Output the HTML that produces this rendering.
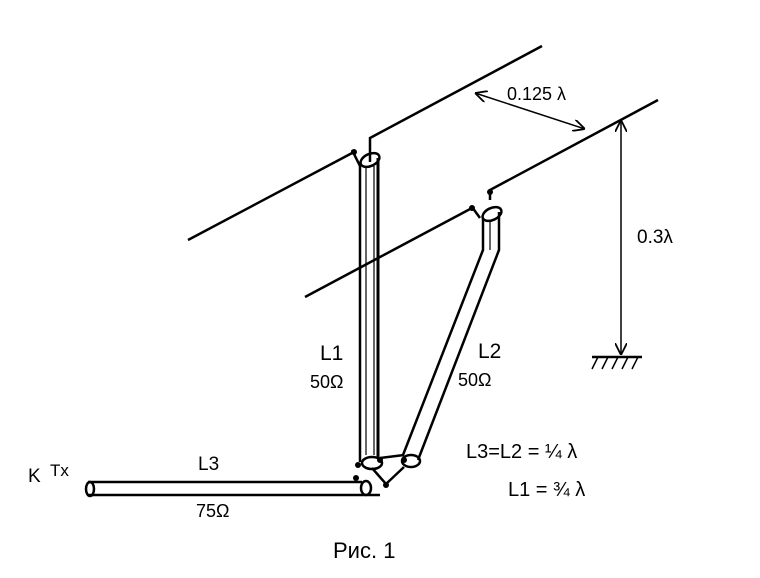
<!DOCTYPE html>
<html><head><style>body{margin:0;background:#fff}svg{display:block}text{font-family:"Liberation Sans",sans-serif;fill:#000}</style></head>
<body>
<svg width="760" height="578" viewBox="0 0 760 578" xmlns="http://www.w3.org/2000/svg">
<defs><marker id="a" viewBox="0 0 10 10" refX="10" refY="5" markerWidth="8" markerHeight="8" orient="auto-start-reverse"><path d="M0,0 L10,5 L0,10" fill="none" stroke="#000" stroke-width="1.5"/></marker></defs>
<g stroke="#000" stroke-width="2.5" fill="none">
<line x1="188" y1="240" x2="354" y2="152"/>
<polyline points="370,162 370,138 542,46"/>
<line x1="305" y1="297" x2="472" y2="208"/>
<polyline points="490,200 490,190 658,100"/>
<path d="M352,150 L360,166"/><path d="M472,207 L480,218"/>
<ellipse cx="370" cy="160" rx="10" ry="6" transform="rotate(-25 370 160)"/>
<ellipse cx="492" cy="214" rx="10" ry="6" transform="rotate(-25 492 214)"/>
<line x1="360" y1="164" x2="360" y2="462"/>
<line x1="378" y1="158" x2="378" y2="458" stroke-width="3"/>
<line x1="366" y1="168" x2="366" y2="455" stroke-width="1.2"/>
<line x1="374" y1="166" x2="374" y2="455" stroke-width="1.2"/>
<polyline points="483,218 483,250 403,455"/>
<polyline points="499,212 499,250 418,460"/>
<line x1="490" y1="220" x2="490" y2="250" stroke-width="1.2"/>
<ellipse cx="411" cy="461" rx="9" ry="6"/>
<ellipse cx="372" cy="463" rx="10" ry="6"/>
<path d="M380,458 L404,455 M372,468 L386,484 L404,467"/>
<line x1="88" y1="482" x2="362" y2="482"/>
<line x1="88" y1="495" x2="380" y2="495"/>
<ellipse cx="90" cy="489" rx="4" ry="7"/>
<ellipse cx="366" cy="488" rx="5" ry="7"/>
<line x1="475" y1="93" x2="585" y2="129" stroke-width="1.5" marker-start="url(#a)" marker-end="url(#a)"/>
<line x1="621" y1="120" x2="621" y2="355" stroke-width="1.5" marker-start="url(#a)" marker-end="url(#a)"/>
<line x1="592" y1="357" x2="642" y2="357"/>
<path d="M598,357 l-6,12 M608,357 l-6,12 M618,357 l-6,12 M628,357 l-6,12 M638,357 l-6,12" stroke-width="1.5"/>
</g>
<g fill="#000"><circle cx="354" cy="152" r="3"/><circle cx="472" cy="208" r="3"/><circle cx="490" cy="192" r="3"/><circle cx="358" cy="465" r="3"/><circle cx="356" cy="478" r="3"/><circle cx="386" cy="485" r="3"/><circle cx="404" cy="460" r="3"/><circle cx="380" cy="460" r="3"/></g>
<text x="507" y="100" font-size="18">0.125 λ</text>
<text x="637" y="243" font-size="19">0.3λ</text>
<text x="320" y="360" font-size="21">L1</text>
<text x="310" y="388" font-size="18">50Ω</text>
<text x="478" y="358" font-size="21">L2</text>
<text x="458" y="386" font-size="18">50Ω</text>
<text x="198" y="470" font-size="19">L3</text>
<text x="196" y="517" font-size="18">75Ω</text>
<text x="466" y="458" font-size="20">L3=L2 = ¼ λ</text>
<text x="508" y="496" font-size="20">L1  = ¾ λ</text>
<text x="28" y="482" font-size="19">K</text><text x="50" y="476" font-size="17">Tx</text>
<text x="333" y="558" font-size="22">Рис. 1</text>
</svg>
</body></html>
